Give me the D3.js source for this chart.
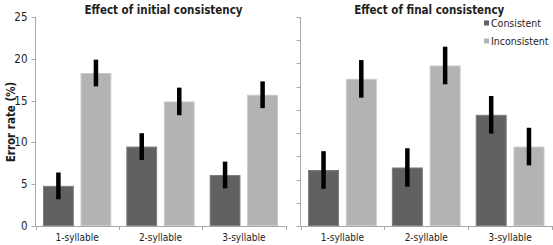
<!doctype html>
<html>
  <head>
    <script src="https://cdn.jsdelivr.net/npm/d3@7/dist/d3.min.js"></script>
    <style>
      body { margin: 0; background: #fff; }
      text { font-family: "DejaVu Sans Condensed", "DejaVu Sans", sans-serif; font-stretch: condensed; fill: #1e1e1e; }
    </style>
  </head>
  <body>
    <svg id="chart" width="553" height="245"></svg>
    <script>
      // data
      var categories = ["1-syllable", "2-syllable", "3-syllable"];
      var series = ["Consistent", "Inconsistent"];
      var initialConsistent = [4.8, 9.5, 6.1];
      var initialInconsistent = [18.3, 14.9, 15.7];
      var initialErrConsistent = [1.6, 1.6, 1.6];
      var initialErrInconsistent = [1.6, 1.65, 1.6];
      var finalConsistent = [6.7, 7.0, 13.3];
      var finalInconsistent = [17.6, 19.2, 9.5];
      var finalErrConsistent = [2.25, 2.3, 2.25];
      var finalErrInconsistent = [2.25, 2.25, 2.25];
      var yTicks = [0, 5, 10, 15, 20, 25];

      var svg = d3.select("#chart");
      var color = d3.scaleOrdinal().domain(series).range(["#616161", "#b3b3b3"]);
      var edge = d3.scaleOrdinal().domain(series).range(["#7d7d7d", "#c8c8c8"]);
      var axisColor = "#a8a8a8";

      var y = d3.scaleLinear().domain([0, 25]).range([226, 17]);

      function rows(cons, incons, errC, errI) {
        var out = [];
        categories.forEach(function(c, i) {
          out.push({cat: c, s: "Consistent", v: cons[i], e: errC[i]});
          out.push({cat: c, s: "Inconsistent", v: incons[i], e: errI[i]});
        });
        return out;
      }

      function panel(x0, x1, title, data, labelled) {
        var g = svg.append("g");
        var x = d3.scaleBand().domain(categories).range([x0, x1]);
        var xs = d3.scaleBand().domain(series).range([0, x.bandwidth()])
          .paddingInner(0.18).paddingOuter(0.2);

        // y axis
        g.append("line")
          .attr("x1", x0).attr("x2", x0)
          .attr("y1", y(25)).attr("y2", y(0))
          .attr("stroke", axisColor);
        var ticks = labelled ? yTicks : d3.range(10).map(function(i) { return i * 25 / 9; });
        g.selectAll(".yt").data(ticks).enter().append("line")
          .attr("x1", x0 - 4).attr("x2", x0)
          .attr("y1", function(d) { return Math.round(y(d)) + 0.5; })
          .attr("y2", function(d) { return Math.round(y(d)) + 0.5; })
          .attr("stroke", axisColor);
        if (labelled) {
          g.selectAll(".yl").data(yTicks).enter().append("text")
            .attr("x", x0 - 8).attr("y", function(d) { return y(d) + 4; })
            .attr("text-anchor", "end")
            .style("font-size", "11.5px")
            .text(function(d) { return d; });
        }

        // bars
        g.selectAll(".bar").data(data).enter().append("rect")
          .attr("x", function(d) { return x(d.cat) + xs(d.s) + 0.5; })
          .attr("y", function(d) { return y(d.v) + 0.5; })
          .attr("width", xs.bandwidth() - 1)
          .attr("height", function(d) { return y(0) - y(d.v) - 1; })
          .attr("fill", function(d) { return color(d.s); })
          .attr("stroke", function(d) { return edge(d.s); });

        // error bars
        g.selectAll(".err").data(data).enter().append("line")
          .attr("x1", function(d) { return x(d.cat) + xs(d.s) + xs.bandwidth() / 2; })
          .attr("x2", function(d) { return x(d.cat) + xs(d.s) + xs.bandwidth() / 2; })
          .attr("y1", function(d) { return y(d.v + d.e); })
          .attr("y2", function(d) { return y(d.v - d.e); })
          .attr("stroke", "#000")
          .attr("stroke-width", 4.5);

        // x axis
        g.append("line")
          .attr("x1", x0).attr("x2", x1)
          .attr("y1", y(0) + 0.5).attr("y2", y(0) + 0.5)
          .attr("stroke", axisColor);
        var bounds = categories.map(function(c) { return x(c); }).concat([x1]);
        g.selectAll(".xt").data(bounds).enter().append("line")
          .attr("x1", function(d) { return Math.round(d) + 0.5; })
          .attr("x2", function(d) { return Math.round(d) + 0.5; })
          .attr("y1", y(0)).attr("y2", y(0) + 4)
          .attr("stroke", axisColor);
        g.selectAll(".xl").data(categories).enter().append("text")
          .attr("x", function(d) { return x(d) + x.bandwidth() / 2; })
          .attr("y", 241)
          .attr("text-anchor", "middle")
          .style("font-size", "10px")
          .text(function(d) { return d; });

        // title
        g.append("text")
          .attr("x", (x0 + x1) / 2 + 3)
          .attr("y", 14)
          .attr("text-anchor", "middle")
          .style("font-size", "11.5px")
          .style("font-weight", "bold")
          .text(title);
      }

      panel(35.5, 285.5, "Effect of initial consistency",
        rows(initialConsistent, initialInconsistent, initialErrConsistent, initialErrInconsistent), true);
      panel(300.5, 552, "Effect of final consistency",
        rows(finalConsistent, finalInconsistent, finalErrConsistent, finalErrInconsistent), false);

      // y axis title
      svg.append("text")
        .attr("transform", "translate(15,122) rotate(-90)")
        .attr("text-anchor", "middle")
        .style("font-size", "11.5px")
        .style("font-weight", "bold")
        .text("Error rate (%)");

      // legend
      var legend = svg.append("g").selectAll("g").data(series).enter().append("g")
        .attr("transform", function(d, i) { return "translate(484," + (23 + i * 18) + ")"; });
      legend.append("rect")
        .attr("x", 0).attr("y", -2.5).attr("width", 5).attr("height", 5)
        .attr("fill", function(d) { return color(d); });
      legend.append("text")
        .attr("x", 7).attr("y", 3.5)
        .style("font-size", "10.5px")
        .text(function(d) { return d; });
    </script>
  </body>
</html>
